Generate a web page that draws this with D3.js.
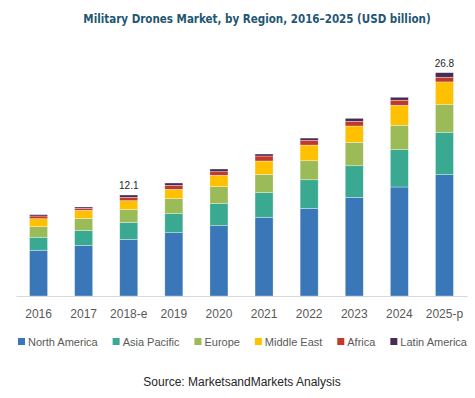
<!DOCTYPE html>
<html>
<head>
<meta charset="utf-8">
<script src="https://cdn.jsdelivr.net/npm/d3@7"></script>
<style>
  body { margin: 0; background: #fff; }
  svg { display: block; }
  text { font-family: "Liberation Sans", Arial, sans-serif; }
</style>
</head>
<body>
<div id="chart"></div>
<script>
// Data (USD billion)
const years = ['2016', '2017', '2018-e', '2019', '2020', '2021', '2022', '2023', '2024', '2025-p'];
const regions = ['North America', 'Asia Pacific', 'Europe', 'Middle East', 'Africa', 'Latin America'];
const northAmerica = [5.49, 6.08, 6.80, 7.60, 8.44, 9.45, 10.52, 11.84, 13.08, 14.56];
const asiaPacific = [1.56, 1.80, 2.04, 2.28, 2.64, 2.95, 3.43, 3.79, 4.48, 5.09];
const europe = [1.27, 1.44, 1.56, 1.80, 2.04, 2.20, 2.28, 2.81, 2.93, 3.36];
const middleEast = [0.96, 0.96, 1.04, 1.12, 1.36, 1.60, 1.88, 1.96, 2.40, 2.68];
const africa = [0.32, 0.24, 0.40, 0.48, 0.44, 0.60, 0.56, 0.56, 0.60, 0.56];
const latinAmerica = [0.16, 0.16, 0.28, 0.28, 0.32, 0.24, 0.28, 0.36, 0.36, 0.55];
const totalLabels = { '2018-e': '12.1', '2025-p': '26.8' };

const colors = ['#3a77b8', '#3aa991', '#9bbb59', '#ffc000', '#c0392b', '#4a2c52'];

const width = 475;
const height = 398;

const rows = years.map((y, i) => ({
  year: y,
  'North America': northAmerica[i],
  'Asia Pacific': asiaPacific[i],
  'Europe': europe[i],
  'Middle East': middleEast[i],
  'Africa': africa[i],
  'Latin America': latinAmerica[i]
}));

const series = d3.stack().keys(regions)(rows);

const svg = d3
  .select('#chart')
  .append('svg')
  .attr('width', width)
  .attr('height', height);

// Title - shrink font until it fits the width seen in the picture
const title = svg
  .append('text')
  .attr('x', 257)
  .attr('y', 23)
  .attr('text-anchor', 'middle')
  .attr('fill', '#1f5673')
  .attr('font-weight', 'bold')
  .style('font-family', '"DejaVu Sans Condensed", "Liberation Sans Narrow", sans-serif')
  .style('font-stretch', 'condensed')
  .text('Military Drones Market, by Region, 2016–2025 (USD billion)');
let titleSize = 15;
title.attr('font-size', titleSize + 'px');
while (title.node().getComputedTextLength() > 352 && titleSize > 9) {
  titleSize -= 0.25;
  title.attr('font-size', titleSize + 'px');
}

// Scales
const xScale = d3
  .scaleBand()
  .domain(years)
  .range([16, 467])
  .paddingInner(0.6)
  .paddingOuter(0.3);

const yScale = d3.scaleLinear().domain([0, 30]).range([296, 46]);

// Bars
svg
  .selectAll('.layer')
  .data(series)
  .enter()
  .append('g')
  .attr('class', 'layer')
  .attr('fill', (d, i) => colors[i])
  .selectAll('rect')
  .data((d) => d)
  .enter()
  .append('rect')
  .attr('x', (d) => xScale(d.data.year))
  .attr('y', (d) => yScale(d[1]))
  .attr('width', xScale.bandwidth())
  .attr('height', (d) => yScale(d[0]) - yScale(d[1]))
  .attr('stroke', 'rgba(255,255,255,0.55)')
  .attr('stroke-width', 0.6);

// Axis line + labels
const xAxis = svg
  .append('g')
  .attr('transform', `translate(0,${yScale(0)})`)
  .call(d3.axisBottom(xScale).tickSize(0).tickPadding(13));

xAxis.select('.domain').attr('stroke', '#d9d9d9').attr('stroke-width', 1.2);
xAxis
  .selectAll('text')
  .attr('fill', '#595959')
  .attr('font-size', '12px')
  .style('font-family', '"Liberation Sans", Arial, sans-serif');

// Total labels
const lastLayer = series[series.length - 1];
svg
  .selectAll('.total')
  .data(lastLayer.filter((d) => totalLabels[d.data.year]))
  .enter()
  .append('text')
  .attr('class', 'total')
  .attr('x', (d) => xScale(d.data.year) + xScale.bandwidth() / 2)
  .attr('y', (d) => yScale(d[1]) - 6)
  .attr('text-anchor', 'middle')
  .attr('fill', '#262626')
  .attr('font-size', '10px')
  .text((d) => totalLabels[d.data.year]);

// Legend: spread items between x=18 and x=467
const legendLeft = 18;
const legendRight = 467;
const legend = svg.append('g').attr('transform', `translate(${legendLeft},341.5)`);
const items = regions.map((r, i) => {
  const g = legend.append('g');
  g.append('rect')
    .attr('x', 0)
    .attr('y', -3.5)
    .attr('width', 7)
    .attr('height', 7)
    .attr('fill', colors[i]);
  const t = g
    .append('text')
    .attr('x', 10)
    .attr('y', 0)
    .attr('dominant-baseline', 'central')
    .attr('fill', '#595959')
    .attr('font-size', '11px')
    .text(r);
  return { g, w: 10 + t.node().getComputedTextLength() };
});
const usedWidth = d3.sum(items, (d) => d.w);
const gap = Math.max(6, (legendRight - legendLeft - usedWidth) / (items.length - 1));
let lx = 0;
items.forEach((d) => {
  d.g.attr('transform', `translate(${lx},0)`);
  lx += d.w + gap;
});

// Source
svg
  .append('text')
  .attr('x', 242)
  .attr('y', 386)
  .attr('text-anchor', 'middle')
  .attr('fill', '#262626')
  .attr('font-size', '12px')
  .text('Source: MarketsandMarkets Analysis');
</script>
</body>
</html>
